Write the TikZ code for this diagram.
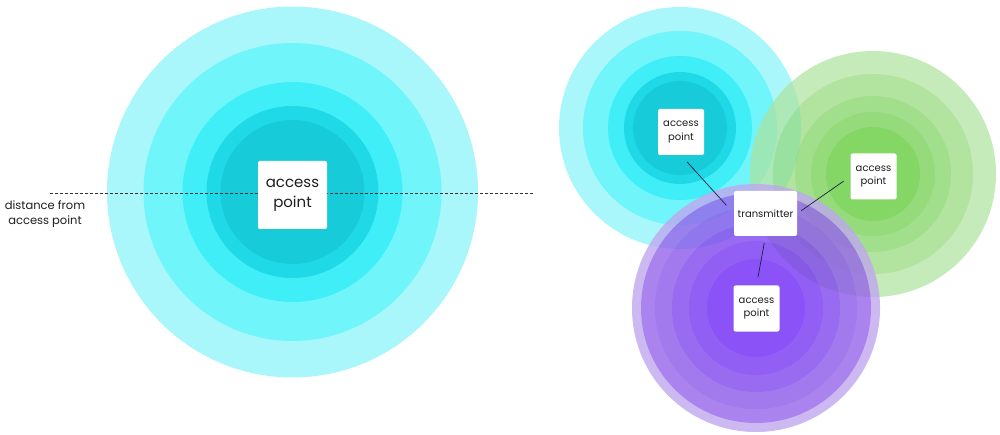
\documentclass[tikz,border=0pt]{standalone}
\usepackage{fontspec}
\setmainfont{Poppins}
\definecolor{cA}{RGB}{169,247,250}
\definecolor{cB}{RGB}{111,245,250}
\definecolor{cC}{RGB}{63,238,247}
\definecolor{cD}{RGB}{32,217,230}
\definecolor{cE}{RGB}{23,204,216}
\definecolor{gA}{RGB}{174,226,156}
\definecolor{gB}{RGB}{145,216,119}
\definecolor{gC}{RGB}{122,209,91}
\definecolor{gD}{RGB}{104,204,68}
\definecolor{gE}{RGB}{81,198,36}
\definecolor{pA}{RGB}{192,167,239}
\definecolor{pB}{RGB}{150,100,234}
\definecolor{pC}{RGB}{140,88,234}
\definecolor{pD}{RGB}{128,70,236}
\definecolor{pE}{RGB}{118,55,240}
\definecolor{pF}{RGB}{110,40,245}
\definecolor{linec}{RGB}{30,30,70}
\definecolor{txt}{RGB}{30,30,30}
\tikzset{
  apbox/.style={fill=white, rounded corners=2pt, inner sep=0pt, align=center, text=txt},
  bigbox/.style={apbox, minimum width=69pt, minimum height=68pt, font=\fontsize{15}{20}\selectfont},
  smallbox/.style={apbox, minimum width=46pt, minimum height=46pt, font=\fontsize{10}{13.5}\selectfont},
  link/.style={draw=linec, line width=0.7pt},
}
\begin{document}
\begin{tikzpicture}[x=1pt,y=-1pt]
\useasboundingbox (0,0) rectangle (1000,435);
% left big circle
\fill[cA] (292.5,192) circle (185.5);
\fill[cB] (292.5,192) circle (149);
\fill[cC] (292.5,192) circle (110);
\fill[cD] (292.5,192) circle (86);
\fill[cE] (292.5,192) circle (72);
\coordinate (dl) at (50,193);
\coordinate (dr) at (533,193);
\draw[dash pattern=on 3pt off 2pt, draw=black!80, line width=0.7pt] (dl) -- (dr);
\node[bigbox] (ap0) at (292.5,195) {access\\point};
\node[align=center, text=txt, font=\fontsize{11.5}{15}\selectfont] (lbl) at (45,214) {distance from\\access point};
% right: cyan
\fill[cA] (680,128) circle (121);
\fill[cB] (680,128) circle (97);
\fill[cC] (680,128) circle (72);
\fill[cD] (680,128) circle (56);
\fill[cE] (680,128) circle (47);
% green
\begin{scope}[transparency group, opacity=0.7]
\fill[gA] (873,174) circle (123);
\fill[gB] (873,174) circle (100);
\fill[gC] (873,174) circle (78);
\fill[gD] (873,174) circle (62);
\fill[gE] (873,174) circle (47);
\end{scope}
% purple
\begin{scope}[transparency group, opacity=0.8]
\fill[pA] (756,308) circle (124);
\fill[pB] (756,308) circle (115);
\fill[pC] (756,308) circle (101);
\fill[pD] (756,308) circle (84);
\fill[pE] (756,308) circle (67);
\fill[pF] (756,308) circle (49);
\end{scope}
\node[smallbox] (ap1) at (681,132) {access\\point};
\node[smallbox] (ap2) at (873.5,176.5) {access\\point};
\node[smallbox] (ap3) at (756.5,308.5) {access\\point};
\node[smallbox, minimum width=63pt, minimum height=45pt] (tx) at (765.5,213.5) {transmitter};
\draw[link, shorten <=9pt, shorten >=11pt] (ap1.south) -- (tx.west);
\draw[link, shorten <=8pt, shorten >=5pt] (ap2.west) -- (tx.east);
\draw[link, shorten <=7pt, shorten >=8pt] (tx.south) -- (ap3.north);
\end{tikzpicture}
\end{document}
